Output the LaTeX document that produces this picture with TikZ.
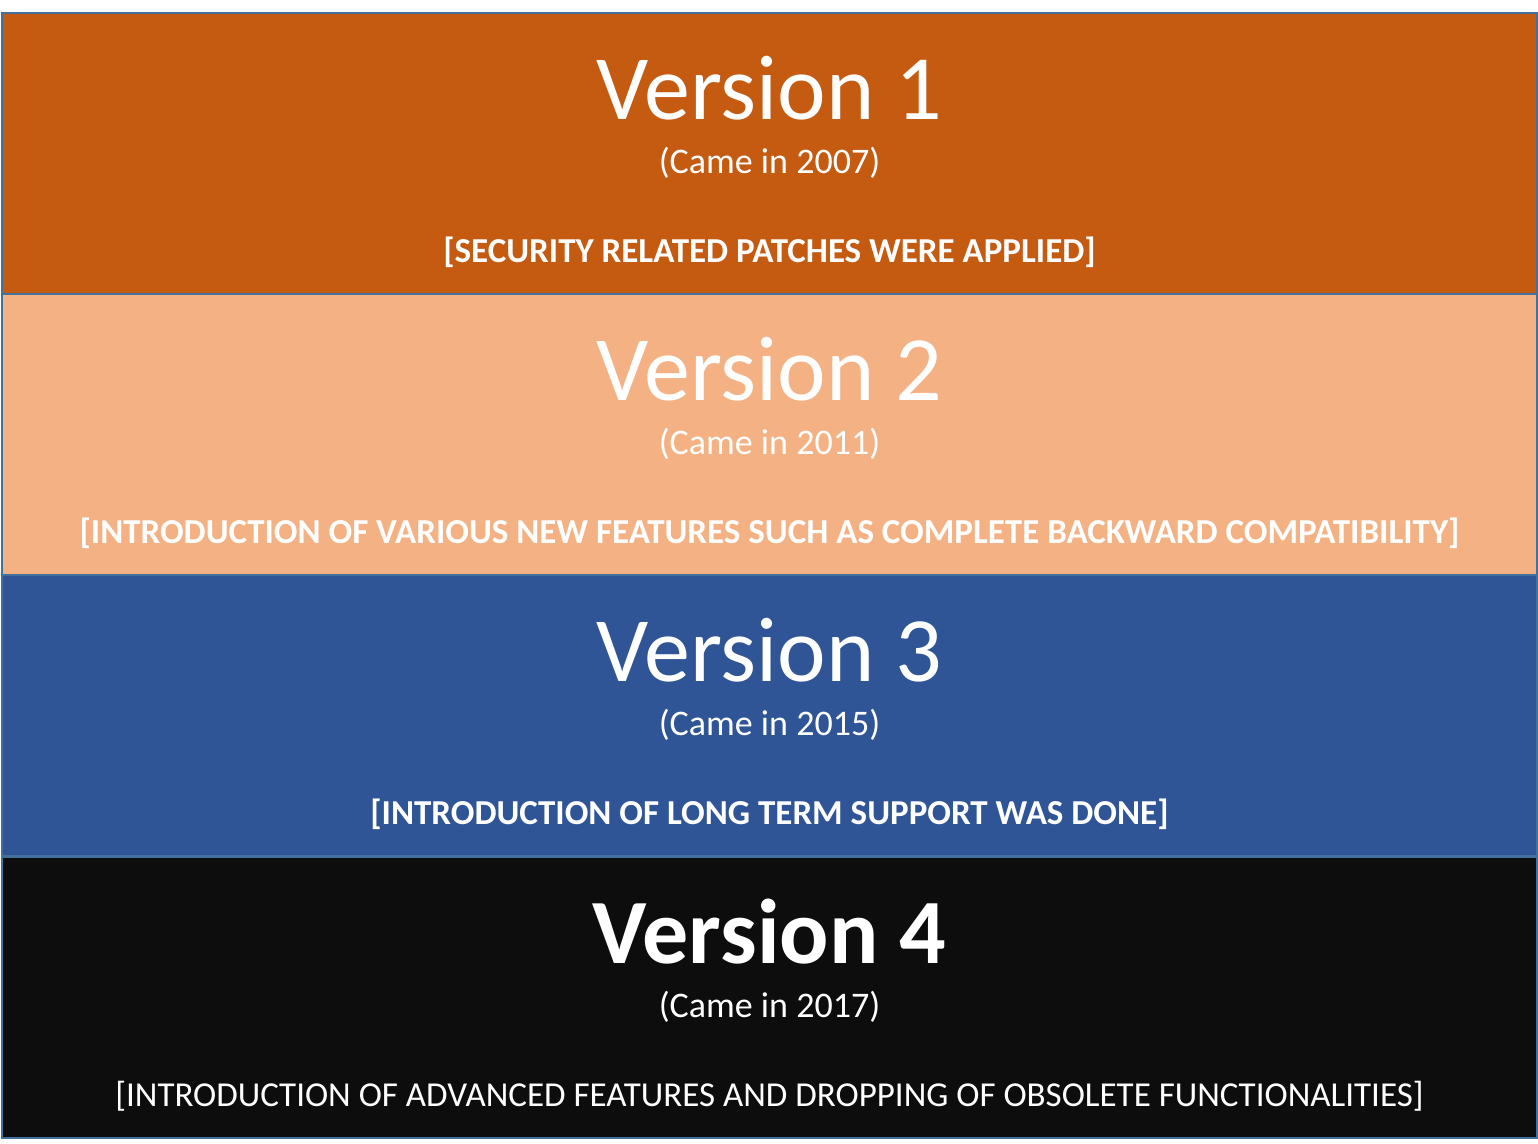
\documentclass[tikz,border=0pt]{standalone}
\usepackage{fontspec}
\setmainfont{Carlito}
\definecolor{rustband}{HTML}{C55A11}
\definecolor{peachband}{HTML}{F4B183}
\definecolor{blueband}{HTML}{2F5597}
\definecolor{darkband}{HTML}{0D0D0D}
\definecolor{edgecol}{HTML}{41719C}
\tikzset{
  band/.style={draw=edgecol, line width=2bp, minimum width=1535bp, minimum height=281bp, inner sep=0pt, anchor=north west},
  vtitle/.style={text=white, font=\fontsize{92bp}{92bp}\selectfont},
  vyear/.style={text=white, font=\fontsize{36bp}{36bp}\selectfont},
  vnote/.style={text=white, font=\bfseries\fontsize{35bp}{35bp}\selectfont}
}
\begin{document}
\begin{tikzpicture}[x=1bp,y=1bp]
  \useasboundingbox (0,0) rectangle (1538,-1143);
  \fill[white] (0,0) rectangle (1538,-1143);
  % Bands
  \node[band, fill=rustband] (b1) at (1,-12) {};
  \node[band, fill=peachband] (b2) at (1,-293) {};
  \node[band, fill=blueband] (b3) at (1,-574) {};
  \node[band, fill=darkband] (b4) at (1,-856) {};
  % Version 1
  \node[vtitle] (t1) at ([yshift=-76bp]b1.north) {Version 1};
  \node[vyear] (y1) at ([yshift=-151bp]b1.north) {(Came in 2007)};
  \node[vnote] (n1) at ([yshift=-240bp]b1.north) {[SECURITY RELATED PATCHES WERE APPLIED]};
  % Version 2
  \node[vtitle] (t2) at ([yshift=-76bp]b2.north) {Version 2};
  \node[vyear] (y2) at ([yshift=-151bp]b2.north) {(Came in 2011)};
  \node[vnote] (n2) at ([yshift=-240bp]b2.north) {[INTRODUCTION OF VARIOUS NEW FEATURES SUCH AS COMPLETE BACKWARD COMPATIBILITY]};
  % Version 3
  \node[vtitle] (t3) at ([yshift=-76bp]b3.north) {Version 3};
  \node[vyear] (y3) at ([yshift=-151bp]b3.north) {(Came in 2015)};
  \node[vnote] (n3) at ([yshift=-240bp]b3.north) {[INTRODUCTION OF LONG TERM SUPPORT WAS DONE]};
  % Version 4
  \node[vtitle, font=\bfseries\fontsize{92bp}{92bp}\selectfont] (t4) at ([yshift=-76bp]b4.north) {Version 4};
  \node[vyear] (y4) at ([yshift=-151bp]b4.north) {(Came in 2017)};
  \node[vnote, font=\fontsize{35bp}{35bp}\selectfont] (n4) at ([yshift=-240bp]b4.north) {[INTRODUCTION OF ADVANCED FEATURES AND DROPPING OF OBSOLETE FUNCTIONALITIES]};
\end{tikzpicture}
\end{document}
